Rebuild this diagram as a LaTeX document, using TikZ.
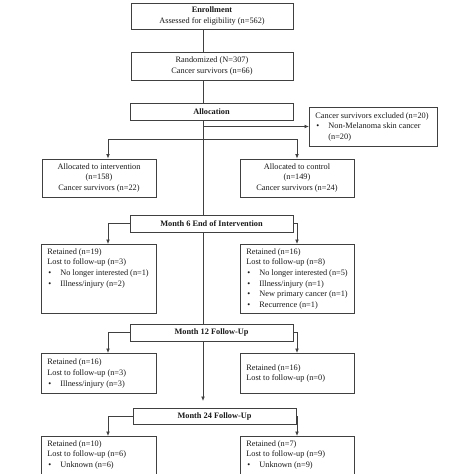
\documentclass[tikz,border=0pt]{standalone}
\usepackage{fontspec}
\setmainfont{Liberation Serif}
\usetikzlibrary{arrows.meta}
\newcommand{\bx}[4]{\parbox[c][#2pt][#3]{#1pt}{\leftskip=6pt\relax #4}}
\newcommand{\itm}[1]{\makebox[13pt][l]{\hspace{1pt}\textbullet}#1}
\tikzset{
  ln/.style={draw=black!75, line width=0.8pt},
  cbox/.style={draw=black!75, line width=0.8pt, align=center, inner sep=0pt, text=black!90, font=\fontsize{8.3}{10.7}\selectfont},
  lbox/.style={draw=black!75, line width=0.8pt, inner sep=0pt, anchor=north west, text=black!90, font=\fontsize{8.3}{10.7}\selectfont},
  arr/.style={ln, -{Latex[length=4.5pt,width=3.8pt]}},
}
\begin{document}
\begin{tikzpicture}[x=1pt, y=-1pt]
\fill[white] (0,0) rectangle (474,474);
\useasboundingbox (0,0) rectangle (474,474);
\coordinate (cx) at (203,0);
\coordinate (lx) at (108,0);
\coordinate (rx) at (297,0);
% centre column
\node[cbox, minimum width=162pt, minimum height=26pt] (enr) at (212,16) {\textbf{Enrollment}\\Assessed for eligibility (n=562)};
\node[cbox, minimum width=162pt, minimum height=28pt] (rand) at (212,66) {Randomized (N=307)\\Cancer survivors (n=66)};
\node[cbox, minimum width=163pt, minimum height=17pt] (alloc) at (211.5,111.5) {\textbf{Allocation}};
\node[lbox] (excl) at (309,107) {\bx{128}{39}{c}{Cancer survivors excluded (n=20)\\\itm{Non-Melanoma skin cancer}\\\hspace*{13pt}(n=20)}};
\node[cbox, minimum width=114pt, minimum height=38pt] (intv) at (99,178) {Allocated to intervention\\(n=158)\\Cancer survivors (n=22)};
\node[cbox, minimum width=114pt, minimum height=38pt] (ctrl) at (297,178) {Allocated to control\\(n=149)\\Cancer survivors (n=24)};
\node[cbox, minimum width=163pt, minimum height=17pt] (m6) at (211.5,223.5) {\textbf{Month 6 End of Intervention}};
\node[lbox] (m6l) at (41,244) {\bx{115}{69}{t}{\vspace*{4pt}Retained (n=19)\\Lost to follow-up (n=3)\\\itm{No longer interested (n=1)}\\\itm{Illness/injury (n=2)}}};
\node[lbox] (m6r) at (240,244) {\bx{114}{69}{t}{\vspace*{4pt}Retained (n=16)\\Lost to follow-up (n=8)\\\itm{No longer interested (n=5)}\\\itm{Illness/injury (n=1)}\\\itm{New primary cancer (n=1)}\\\itm{Recurrence (n=1)}}};
\node[cbox, minimum width=163pt, minimum height=17pt] (m12) at (211.5,332.5) {\textbf{Month 12 Follow-Up}};
\node[lbox] (m12l) at (41,353) {\bx{115}{40}{c}{Retained (n=16)\\Lost to follow-up (n=3)\\\itm{Illness/injury (n=3)}}};
\node[lbox] (m12r) at (240,353) {\bx{114}{40}{c}{Retained (n=16)\\Lost to follow-up (n=0)}};
\coordinate (m24in) at (203,401);
\node[cbox, minimum width=163pt, minimum height=16pt] (m24) at (214.5,416) {\textbf{Month 24 Follow-Up}};
\node[lbox] (m24l) at (41,436) {\bx{115}{60}{t}{\vspace*{4pt}Retained (n=10)\\Lost to follow-up (n=6)\\\itm{Unknown (n=6)}}};
\node[lbox] (m24r) at (240,436) {\bx{114}{60}{t}{\vspace*{4pt}Retained (n=7)\\Lost to follow-up (n=9)\\\itm{Unknown (n=9)}}};
% connectors
\draw[ln] (enr.south -| cx) -- (rand.north -| cx);
\draw[ln] (rand.south -| cx) -- (alloc.north -| cx);
\draw[ln] (alloc.south -| cx) -- (m6.north -| cx);
\coordinate (exb) at (203,126.5);
\draw[arr] (exb) -- (excl.west |- exb);
\coordinate (br) at (203,139);
\draw[ln] (lx |- br) -- (rx |- br);
\draw[arr] (lx |- br) -- (intv.north -| lx);
\draw[arr] (rx |- br) -- (ctrl.north -| rx);
\draw[arr] (m6.west) -- (lx |- m6.west) -- (m6l.north -| lx);
\draw[arr] (m6.east) -- (rx |- m6.east) -- (m6r.north -| rx);
\draw[ln] (m6.south -| cx) -- (m12.north -| cx);
\draw[arr] (m12.west) -- (lx |- m12.west) -- (m12l.north -| lx);
\draw[arr] (m12.east) -- (rx |- m12.east) -- (m12r.north -| rx);
\draw[arr] (m12.south -| cx) -- (m24in);
\draw[arr] (m24.west) -- (lx |- m24.west) -- (m24l.north -| lx);
\draw[arr] (m24.east) -- (rx |- m24.east) -- (m24r.north -| rx);
\end{tikzpicture}
\end{document}
